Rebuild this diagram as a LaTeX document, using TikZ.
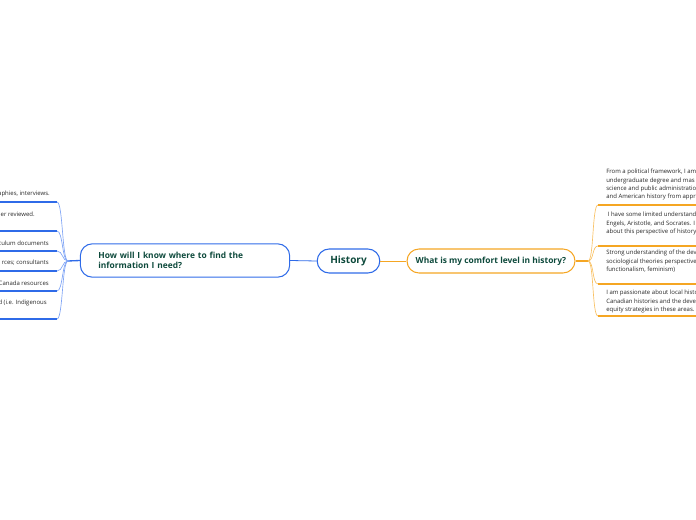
\documentclass[tikz,border=0pt]{standalone}
\usepackage{fontspec}
\setmainfont{Open Sans}
\definecolor{bl}{HTML}{2F6BE8}
\definecolor{lbl}{HTML}{7FA4F5}
\definecolor{org}{HTML}{F5A623}
\definecolor{txt}{HTML}{0E4A3C}
\begin{document}
\begin{tikzpicture}[x=0.75pt,y=-0.75pt,
  mainbox/.style={draw=#1,line width=0.8pt,rounded corners=9pt,text=txt,font=\bfseries\fontsize{6.3}{8}\selectfont},
  leaftxt/.style={font=\fontsize{4.5}{6.2}\selectfont,text=black!85,align=left,inner sep=0},
  lefttxt/.style={font=\fontsize{4.5}{6.2}\selectfont,text=black!85,anchor=east,inner sep=0}]
\useasboundingbox (0,0) rectangle (696,520);
\clip (0,0) rectangle (696,520);
\node[mainbox=bl,minimum width=47pt,minimum height=18pt,font=\bfseries\fontsize{7.5}{9}\selectfont] (h) at (348.5,261) {History};
\node[mainbox=org,minimum width=126pt,minimum height=18pt] (r) at (491,261) {What is my comfort level in history?};
\node[mainbox=bl,minimum width=157pt,minimum height=25pt,align=left,text width=130pt] (l) at (185,260.5) {How will I know where to find the\\information I need?};
\draw[bl,line width=0.6pt] (l.east) -- (h.west);
\draw[org,line width=0.6pt] (h.east) -- (r.west);
% right leaves
\coordinate (rb) at (588,261);
\draw[org,line width=1pt] (r.east) -- (rb);
\foreach \y in {205,246,284,316}{
  \draw[org!70,line width=0.5pt] (rb) .. controls (594,261) and (592,\y) .. (598,\y);
  \draw[org,line width=0.8pt] (598,\y) -- (700,\y);
}
\node[leaftxt,anchor=north west] (t1) at (606,169) {From a political framework, I am\\undergraduate degree and mas\\science and public administratio\\and American history from appr};
\node[leaftxt,anchor=north west] (t2) at (606,212) {\ I have some limited understandi\\Engels, Aristotle, and Socrates. I\\about this perspective of history.};
\node[leaftxt,anchor=north west] (t3) at (606,250) {Strong understanding of the dev\\sociological theories perspective\\functionalism, feminism)};
\node[leaftxt,anchor=north west] (t4) at (606,290) {I am passionate about local histo\\Canadian histories and the devel\\equity strategies in these areas.};
% left leaves
\coordinate (lb) at (68,261);
\draw[bl,line width=1pt] (l.west) -- (lb);
\foreach \y in {202,231,251,271,291,319}{
  \draw[lbl,line width=0.5pt] (lb) .. controls (62,261) and (63,\y) .. (57,\y);
  \draw[bl,line width=0.8pt] (57,\y) -- (-5,\y);
}
\node[lefttxt] (s1) at (50,194) {aphies, interviews.};
\node[lefttxt] (s2) at (35,214) {er reviewed.};
\node[lefttxt] (s3) at (49,243) {culum documents};
\node[lefttxt] (s4) at (49,263) {rces; consultants};
\node[lefttxt] (s5) at (49,283) {Canada resources};
\node[lefttxt] (s6) at (47,303) {d (i.e. Indigenous};
\end{tikzpicture}
\end{document}
